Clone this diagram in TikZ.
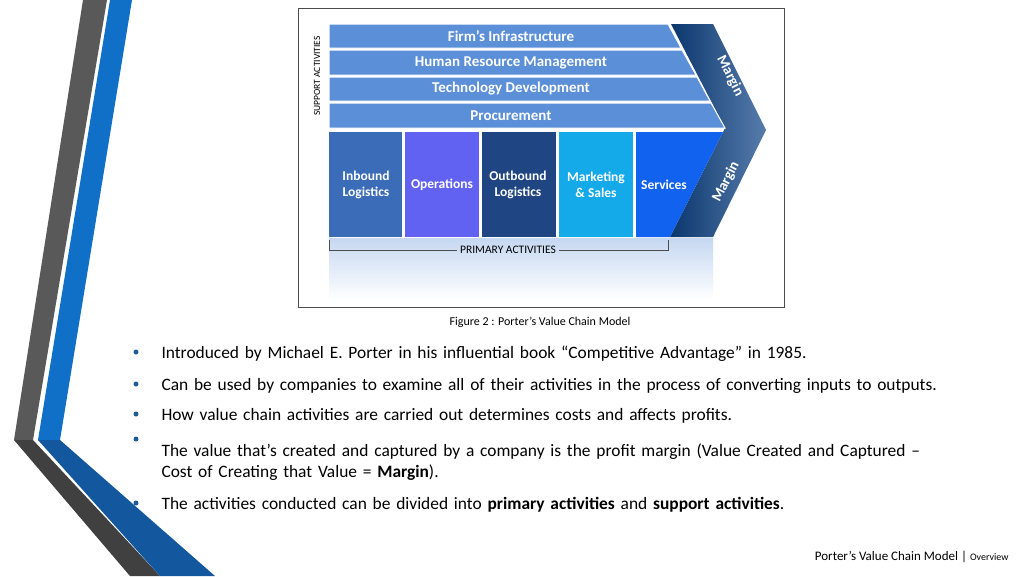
\documentclass[tikz,border=0pt]{standalone}
\usepackage{fontspec}
\setmainfont{Carlito}
\begin{document}
\begin{tikzpicture}[x=1pt,y=-1pt,
  bar/.style={fill=supc,draw=white,line width=1pt},
  wt/.style={text=white,font=\fontsize{15}{16}\selectfont\bfseries,align=center},
  pt/.style={text=white,font=\fontsize{13.5}{16}\selectfont\bfseries,align=center},
  bul/.style={anchor=west,font=\fontsize{17.4}{21.5}\selectfont,align=left,text width=850}]
\definecolor{supc}{HTML}{5B8FD8}
\definecolor{inb}{HTML}{3A6CB8}
\definecolor{ops}{HTML}{6262F2}
\definecolor{outb}{HTML}{1F4682}
\definecolor{mkt}{HTML}{14A9E9}
\definecolor{srv}{HTML}{1262F0}
\definecolor{marg}{HTML}{0E4488}
\definecolor{bgray}{HTML}{595959}
\definecolor{dgray}{HTML}{404040}
\definecolor{bblue}{HTML}{1070C8}
\definecolor{dblue}{HTML}{13589E}
\definecolor{bulc}{HTML}{1F5A9A}
\useasboundingbox (0,0) rectangle (1024,576);
\fill[white] (0,0) rectangle (1024,576);
% left stripes
\fill[bgray] (83,0) -- (107,0) -- (33,440) -- (14,440) -- cycle;
\fill[dgray] (14,440) -- (33,440) -- (160,576) -- (130,576) -- cycle;
\fill[bblue] (110,0) -- (132,0) -- (60,440) -- (38,440) -- cycle;
\fill[dblue] (38,440) -- (60,440) -- (215,576) -- (160,576) -- cycle;
% frame
\draw[black!70,line width=0.6pt] (298,8) rectangle (784,307);
% reflection
\shade[top color=supc!35,bottom color=white] (329,238) rectangle (713,300);
% margin
\shade[left color=marg!80!black,right color=marg!70!white]
  (671,24) -- (713,24) -- (766,130) -- (713,237) -- (670,237) -- (723,132) -- (725,128) -- cycle;
\node[text=white,font=\fontsize{14.5}{15}\selectfont\bfseries,rotate=-63] (m1) at (730,76) {Margin};
\node[text=white,font=\fontsize{14.5}{15}\selectfont\bfseries,rotate=63] (m2) at (726,182) {Margin};
% support bars
\fill[bar] (329,24) -- (668,24) -- (681,48) -- (329,48) -- cycle;
\fill[bar] (329,50) -- (682,50) -- (696,75) -- (329,75) -- cycle;
\fill[bar] (329,77) -- (697,77) -- (710,101) -- (329,101) -- cycle;
\fill[bar] (329,103) -- (711,103) -- (725,128) -- (329,128) -- cycle;
\node[wt] (s1) at (511,36) {Firm’s Infrastructure};
\node[wt] (s2) at (511,63) {Human Resource Management};
\node[wt] (s3) at (511,89) {Technology Development};
\node[wt] (s4) at (511,116) {Procurement};
\node[font=\fontsize{9.5}{10}\selectfont,rotate=90] (sa) at (317,76) {SUPPORT ACTIVITIES};
% primary
\fill[inb] (329,132) rectangle (402,237);
\fill[ops] (405,132) rectangle (479,237);
\fill[outb] (482,132) rectangle (556,237);
\fill[mkt] (559,132) rectangle (633,237);
\fill[srv] (636,132) -- (723,132) -- (670,237) -- (636,237) -- cycle;
\node[pt] (p1) at (366,185) {Inbound\\Logistics};
\node[pt] (p2) at (442,185) {Operations};
\node[pt] (p3) at (518,185) {Outbound\\Logistics};
\node[pt] (p4) at (596,185) {Marketing\\\& Sales};
\node[pt] (p5) at (664,185) {Services};
% bracket
\node[font=\fontsize{11.5}{12}\selectfont] (pa) at (508,250) {PRIMARY ACTIVITIES};
\coordinate (bl) at (329,240); \coordinate (br) at (668,240);
\draw[black!70,line width=0.8pt] (bl) -- (329,250) -- (pa.west);
\draw[black!70,line width=0.8pt] (pa.east) -- (668,250) -- (br);
% caption
\node[font=\fontsize{12}{14}\selectfont] (cap) at (540,322) {Figure 2 : Porter’s Value Chain Model};
% bullets
\foreach \y in {352,384,414,439,503}{\fill[bulc] (136,\y) circle (2.5);}
\node[bul] (b1) at (158,354) {Introduced by Michael E. Porter in his influential book “Competitive Advantage” in 1985.};
\node[bul] (b2) at (158,386) {Can be used by companies to examine all of their activities in the process of converting inputs to outputs.};
\node[bul] (b3) at (158,416) {How value chain activities are carried out determines costs and affects profits.};
\node[bul,anchor=north west] (b4) at (158,440) {The value that's created and captured by a company is the profit margin (Value Created and Captured –\\Cost of Creating that Value = \textbf{Margin}).};
\node[bul] (b5) at (158,505) {The activities conducted can be divided into \textbf{primary activities} and \textbf{support activities}.};
\node[anchor=east,font=\fontsize{13}{15}\selectfont] (ft) at (1012,557) {Porter’s Value Chain Model | {\fontsize{10}{11}\selectfont Overview}};
\end{tikzpicture}
\end{document}
